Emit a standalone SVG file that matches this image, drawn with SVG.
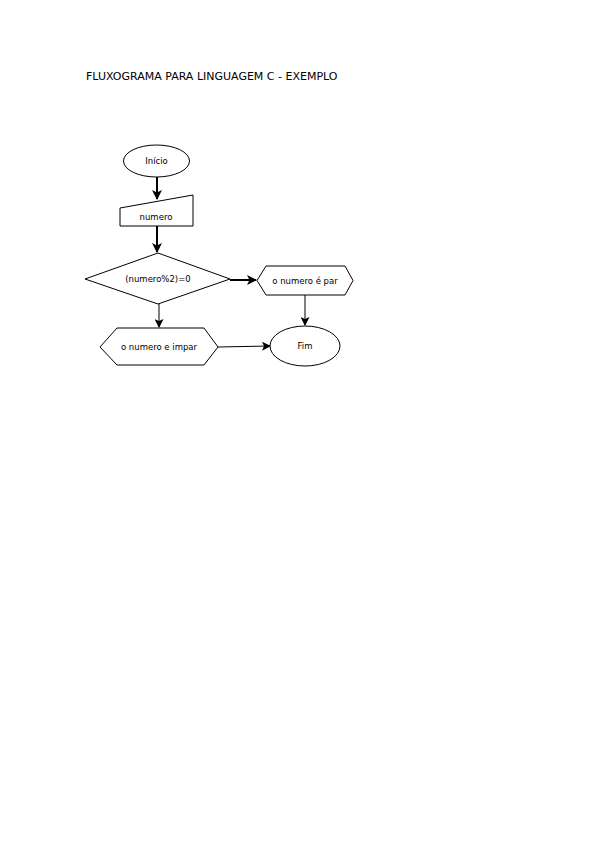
<svg xmlns="http://www.w3.org/2000/svg" width="595" height="842" viewBox="0 0 595 842">
<defs>
<marker id="ah" markerWidth="9" markerHeight="9" refX="8" refY="4.5" orient="auto" markerUnits="userSpaceOnUse">
<path d="M0,0 L9,4.5 L0,9 L2,4.5 Z" fill="#000"/>
</marker>
<marker id="ahb" markerWidth="10" markerHeight="10" refX="9" refY="5" orient="auto" markerUnits="userSpaceOnUse">
<path d="M0,0 L10,5 L0,10 L2.5,5 Z" fill="#000"/>
</marker>
</defs>
<style>
.shape{fill:#fff;stroke:#000;stroke-width:1}
.lbl{font-family:"DejaVu Sans","Liberation Sans",sans-serif;font-size:8.5px;fill:#000;text-anchor:middle;dominant-baseline:central}
.title{font-family:"DejaVu Sans","Liberation Sans",sans-serif;font-size:11px;fill:#000}
.c{fill:none;stroke:#000;stroke-width:1}
.cb{fill:none;stroke:#000;stroke-width:2}
</style>
<rect width="595" height="842" fill="#fff"/>
<text class="title" x="86" y="80">FLUXOGRAMA PARA LINGUAGEM C - EXEMPLO</text>
<g id="connectors">
<line class="cb" x1="157" y1="177" x2="157" y2="199" marker-end="url(#ahb)"/>
<line class="cb" x1="157" y1="226" x2="157" y2="252" marker-end="url(#ahb)"/>
<line class="cb" x1="230" y1="280" x2="256" y2="280" marker-end="url(#ahb)"/>
<line class="c" x1="159" y1="304" x2="159" y2="327" marker-end="url(#ah)"/>
<line class="c" x1="305" y1="295" x2="305" y2="325" marker-end="url(#ah)"/>
<line class="c" x1="218" y1="347" x2="270" y2="346" marker-end="url(#ah)"/>
</g>
<g id="inicio">
<ellipse class="shape" cx="156.5" cy="161" rx="33" ry="16"/>
<text class="lbl" x="156.5" y="161">Início</text>
</g>
<g id="numero">
<polygon class="shape" points="120,208 193,195 193,226 120,226"/>
<text class="lbl" x="156" y="217">numero</text>
</g>
<g id="decisao">
<polygon class="shape" points="85,279 158,253 230,279 158,304"/>
<text class="lbl" x="158" y="279">(numero%2)=0</text>
</g>
<g id="par">
<polygon class="shape" points="257,280.5 266,266 345,266 353,280.5 345,295 266,295"/>
<text class="lbl" x="305" y="281">o numero é par</text>
</g>
<g id="impar">
<polygon class="shape" points="100,347 117,328 204,328 218,347 204,365 117,365"/>
<text class="lbl" x="159" y="347">o numero e impar</text>
</g>
<g id="fim">
<ellipse class="shape" cx="305" cy="346" rx="35" ry="20"/>
<text class="lbl" x="305" y="346">Fim</text>
</g>
</svg>
